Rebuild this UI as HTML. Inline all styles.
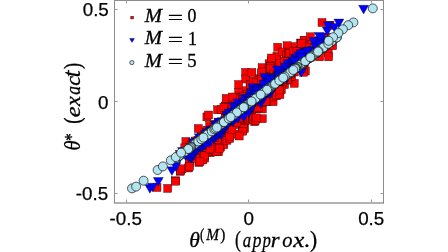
<!DOCTYPE html>
<html><head><meta charset="utf-8"><title>plot</title>
<style>
html,body{margin:0;padding:0;background:#fff;width:448px;height:252px;overflow:hidden}
svg{display:block}
.tk{font-family:"Liberation Sans",Arial,sans-serif;font-size:18.8px;fill:#000;stroke:#000;stroke-width:0.25px}
.lb{font-family:"Liberation Serif","Times New Roman",serif;fill:#000;stroke:#000;stroke-width:0.3px}
.lg{font-family:"Liberation Serif","Times New Roman",serif;fill:#000;stroke:#000;stroke-width:0.3px}
</style></head><body>
<svg width="448" height="252" viewBox="0 0 448 252">
<rect width="448" height="252" fill="#fff"/>
<defs><clipPath id="c"><rect x="114" y="0" width="270" height="203"/></clipPath></defs>
<g clip-path="url(#c)">
<g fill="#f00" stroke="#000" stroke-width="0.35"><rect x="218.5" y="125.7" width="8" height="8"/><rect x="235.6" y="107.6" width="8" height="8"/><rect x="225.6" y="128.2" width="8" height="8"/><rect x="245.3" y="101.9" width="8" height="8"/><rect x="203.3" y="135.1" width="8" height="8"/><rect x="249.5" y="91.8" width="8" height="8"/><rect x="246" y="83.3" width="8" height="8"/><rect x="221.1" y="102.8" width="8" height="8"/><rect x="280.6" y="75.8" width="8" height="8"/><rect x="235.9" y="97.5" width="8" height="8"/><rect x="300.7" y="36.5" width="8" height="8"/><rect x="241.7" y="116.4" width="8" height="8"/><rect x="300.2" y="57.4" width="8" height="8"/><rect x="277.2" y="77.1" width="8" height="8"/><rect x="277.7" y="60.7" width="8" height="8"/><rect x="220.4" y="105" width="8" height="8"/><rect x="270" y="66.2" width="8" height="8"/><rect x="269.4" y="68.7" width="8" height="8"/><rect x="200.6" y="143.4" width="8" height="8"/><rect x="266.2" y="67.7" width="8" height="8"/><rect x="194.9" y="158.5" width="8" height="8"/><rect x="296.5" y="39" width="8" height="8"/><rect x="271" y="78.1" width="8" height="8"/><rect x="280.7" y="64.5" width="8" height="8"/><rect x="226.7" y="118.4" width="8" height="8"/><rect x="266.6" y="84.4" width="8" height="8"/><rect x="246.3" y="104.2" width="8" height="8"/><rect x="300.2" y="62.5" width="8" height="8"/><rect x="306.3" y="53.3" width="8" height="8"/><rect x="239" y="86.7" width="8" height="8"/><rect x="217" y="136.7" width="8" height="8"/><rect x="256.1" y="75.9" width="8" height="8"/><rect x="230.3" y="97.9" width="8" height="8"/><rect x="264.8" y="85.7" width="8" height="8"/><rect x="263.3" y="73" width="8" height="8"/><rect x="276.6" y="63.9" width="8" height="8"/><rect x="236.2" y="118.5" width="8" height="8"/><rect x="190.1" y="148" width="8" height="8"/><rect x="261.9" y="72.5" width="8" height="8"/><rect x="197" y="151.4" width="8" height="8"/><rect x="272.9" y="83" width="8" height="8"/><rect x="239.2" y="109.7" width="8" height="8"/><rect x="197.4" y="131" width="8" height="8"/><rect x="287" y="50.4" width="8" height="8"/><rect x="223.7" y="118.5" width="8" height="8"/><rect x="312.4" y="51.5" width="8" height="8"/><rect x="281.5" y="71.2" width="8" height="8"/><rect x="263.5" y="88.4" width="8" height="8"/><rect x="241.9" y="114" width="8" height="8"/><rect x="286.6" y="54.3" width="8" height="8"/><rect x="239.9" y="108.4" width="8" height="8"/><rect x="262.4" y="85.8" width="8" height="8"/><rect x="207.7" y="126.4" width="8" height="8"/><rect x="205.2" y="139.2" width="8" height="8"/><rect x="259.5" y="89.4" width="8" height="8"/><rect x="231.2" y="100.7" width="8" height="8"/><rect x="260.9" y="90.5" width="8" height="8"/><rect x="286.9" y="64.6" width="8" height="8"/><rect x="245.6" y="108.3" width="8" height="8"/><rect x="249.4" y="85.8" width="8" height="8"/><rect x="232.4" y="112.2" width="8" height="8"/><rect x="221.2" y="102" width="8" height="8"/><rect x="216.6" y="143.1" width="8" height="8"/><rect x="242.7" y="108.8" width="8" height="8"/><rect x="206.5" y="148.7" width="8" height="8"/><rect x="185.1" y="162" width="8" height="8"/><rect x="273.1" y="62.6" width="8" height="8"/><rect x="227.1" y="118.9" width="8" height="8"/><rect x="266.8" y="90.8" width="8" height="8"/><rect x="229.9" y="112.9" width="8" height="8"/><rect x="262" y="85.2" width="8" height="8"/><rect x="290.3" y="79.4" width="8" height="8"/><rect x="289.3" y="54.3" width="8" height="8"/><rect x="235" y="107.2" width="8" height="8"/><rect x="283.2" y="50.5" width="8" height="8"/><rect x="243.9" y="92.3" width="8" height="8"/><rect x="284.9" y="73.8" width="8" height="8"/><rect x="212.3" y="130.5" width="8" height="8"/><rect x="211.1" y="120.5" width="8" height="8"/><rect x="207.4" y="127.1" width="8" height="8"/><rect x="300.1" y="36.4" width="8" height="8"/><rect x="275.1" y="68.6" width="8" height="8"/><rect x="204.1" y="147.9" width="8" height="8"/><rect x="246.9" y="104.1" width="8" height="8"/><rect x="247.2" y="88.2" width="8" height="8"/><rect x="250.9" y="99.3" width="8" height="8"/><rect x="249.1" y="88.9" width="8" height="8"/><rect x="263.7" y="83.1" width="8" height="8"/><rect x="287.7" y="61.4" width="8" height="8"/><rect x="246.1" y="103.2" width="8" height="8"/><rect x="193.7" y="146.6" width="8" height="8"/><rect x="290.4" y="51.7" width="8" height="8"/><rect x="275.2" y="73.3" width="8" height="8"/><rect x="176.2" y="167.4" width="8" height="8"/><rect x="208.2" y="122.3" width="8" height="8"/><rect x="283.2" y="62.2" width="8" height="8"/><rect x="287.2" y="61.7" width="8" height="8"/><rect x="264.5" y="97" width="8" height="8"/><rect x="294.9" y="59.4" width="8" height="8"/><rect x="267.5" y="61.2" width="8" height="8"/><rect x="273" y="70" width="8" height="8"/><rect x="293.3" y="48.7" width="8" height="8"/><rect x="171.4" y="176.7" width="8" height="8"/><rect x="231.5" y="113.2" width="8" height="8"/><rect x="264" y="71.8" width="8" height="8"/><rect x="259.3" y="81.5" width="8" height="8"/><rect x="176.8" y="166.5" width="8" height="8"/><rect x="300.5" y="47.5" width="8" height="8"/><rect x="199.4" y="152.2" width="8" height="8"/><rect x="280.6" y="80.6" width="8" height="8"/><rect x="283.1" y="63.2" width="8" height="8"/><rect x="214.2" y="118.4" width="8" height="8"/><rect x="215.5" y="124.8" width="8" height="8"/><rect x="258.1" y="63.6" width="8" height="8"/><rect x="261.6" y="89.4" width="8" height="8"/><rect x="252.8" y="84.6" width="8" height="8"/><rect x="197.5" y="128" width="8" height="8"/><rect x="245.5" y="99.6" width="8" height="8"/><rect x="264.6" y="67.3" width="8" height="8"/><rect x="293.4" y="49.4" width="8" height="8"/><rect x="287" y="61" width="8" height="8"/><rect x="178" y="164.8" width="8" height="8"/><rect x="163.7" y="184.4" width="8" height="8"/><rect x="213.8" y="140.4" width="8" height="8"/><rect x="221.4" y="107.4" width="8" height="8"/><rect x="241.6" y="68.4" width="8" height="8"/><rect x="243.4" y="108.1" width="8" height="8"/><rect x="243.5" y="97.2" width="8" height="8"/><rect x="260.6" y="74.4" width="8" height="8"/><rect x="290.3" y="44.4" width="8" height="8"/><rect x="251" y="96.3" width="8" height="8"/><rect x="279.1" y="61.1" width="8" height="8"/><rect x="253.3" y="86.3" width="8" height="8"/><rect x="289.4" y="47" width="8" height="8"/><rect x="256.2" y="88.7" width="8" height="8"/><rect x="263.4" y="79.8" width="8" height="8"/><rect x="244.5" y="96.1" width="8" height="8"/><rect x="254.3" y="78.7" width="8" height="8"/><rect x="212.3" y="125.9" width="8" height="8"/><rect x="279.2" y="68" width="8" height="8"/><rect x="245.8" y="110.1" width="8" height="8"/><rect x="234.9" y="107.6" width="8" height="8"/><rect x="282" y="75.4" width="8" height="8"/><rect x="229.2" y="113.7" width="8" height="8"/><rect x="289.9" y="42.6" width="8" height="8"/><rect x="213.9" y="136.4" width="8" height="8"/><rect x="282.4" y="51.2" width="8" height="8"/><rect x="275.6" y="71.5" width="8" height="8"/><rect x="224.3" y="130.4" width="8" height="8"/><rect x="297.2" y="43.3" width="8" height="8"/><rect x="274.4" y="67.7" width="8" height="8"/><rect x="250.7" y="117.7" width="8" height="8"/><rect x="268.8" y="76.5" width="8" height="8"/><rect x="274.4" y="71.2" width="8" height="8"/><rect x="278.6" y="72.3" width="8" height="8"/><rect x="273.1" y="69" width="8" height="8"/><rect x="246.7" y="94.8" width="8" height="8"/><rect x="290.7" y="56.6" width="8" height="8"/><rect x="214.9" y="136.3" width="8" height="8"/><rect x="181.9" y="137.5" width="8" height="8"/><rect x="318.7" y="39.6" width="8" height="8"/><rect x="236.9" y="94.5" width="8" height="8"/><rect x="273.9" y="58.3" width="8" height="8"/><rect x="266.3" y="81.9" width="8" height="8"/><rect x="234.6" y="88.6" width="8" height="8"/><rect x="294.5" y="49.3" width="8" height="8"/><rect x="255.4" y="74.7" width="8" height="8"/><rect x="258.4" y="86.4" width="8" height="8"/><rect x="223.5" y="107.6" width="8" height="8"/><rect x="204.8" y="131.7" width="8" height="8"/><rect x="232.7" y="94.2" width="8" height="8"/><rect x="243.2" y="90.8" width="8" height="8"/><rect x="200" y="148.5" width="8" height="8"/><rect x="229.8" y="114.4" width="8" height="8"/><rect x="299.3" y="66.3" width="8" height="8"/><rect x="243.1" y="102.6" width="8" height="8"/><rect x="214.8" y="138.7" width="8" height="8"/><rect x="274.3" y="68.3" width="8" height="8"/><rect x="270.1" y="66.2" width="8" height="8"/><rect x="248.5" y="91.1" width="8" height="8"/><rect x="258.4" y="104.9" width="8" height="8"/><rect x="287.6" y="72.3" width="8" height="8"/><rect x="275.7" y="67.7" width="8" height="8"/><rect x="240.1" y="105.8" width="8" height="8"/><rect x="258" y="83.7" width="8" height="8"/><rect x="244" y="101" width="8" height="8"/><rect x="220.5" y="127.5" width="8" height="8"/><rect x="220.8" y="122.5" width="8" height="8"/><rect x="224" y="117.6" width="8" height="8"/><rect x="269.2" y="65.9" width="8" height="8"/><rect x="224.7" y="109.4" width="8" height="8"/><rect x="264.7" y="82.2" width="8" height="8"/><rect x="212.2" y="139.5" width="8" height="8"/><rect x="271" y="81.2" width="8" height="8"/><rect x="234.3" y="109" width="8" height="8"/><rect x="277.8" y="57.1" width="8" height="8"/><rect x="228.4" y="97.5" width="8" height="8"/><rect x="300.6" y="49.3" width="8" height="8"/><rect x="287.1" y="62.4" width="8" height="8"/><rect x="224.2" y="102.9" width="8" height="8"/><rect x="261.6" y="89.2" width="8" height="8"/><rect x="311.9" y="37.9" width="8" height="8"/><rect x="283.8" y="76.1" width="8" height="8"/><rect x="210.3" y="121.4" width="8" height="8"/><rect x="258.1" y="71.7" width="8" height="8"/><rect x="266.7" y="84" width="8" height="8"/><rect x="265.1" y="59.8" width="8" height="8"/><rect x="288.8" y="47.4" width="8" height="8"/><rect x="203.8" y="128.6" width="8" height="8"/><rect x="221.7" y="110.8" width="8" height="8"/><rect x="180.8" y="143.9" width="8" height="8"/><rect x="253.1" y="87.1" width="8" height="8"/><rect x="314" y="39.8" width="8" height="8"/><rect x="276.3" y="71.2" width="8" height="8"/><rect x="298.8" y="49.3" width="8" height="8"/><rect x="243.5" y="95.2" width="8" height="8"/><rect x="258.5" y="98.7" width="8" height="8"/><rect x="248.4" y="99.4" width="8" height="8"/><rect x="209.7" y="145.4" width="8" height="8"/><rect x="257.6" y="69.6" width="8" height="8"/><rect x="203.3" y="144.6" width="8" height="8"/><rect x="221.7" y="109.4" width="8" height="8"/><rect x="237.2" y="109.3" width="8" height="8"/><rect x="292.2" y="53.3" width="8" height="8"/><rect x="203" y="129.2" width="8" height="8"/><rect x="256.8" y="87.6" width="8" height="8"/><rect x="319.5" y="36.3" width="8" height="8"/><rect x="296.5" y="52.3" width="8" height="8"/><rect x="253.8" y="94.8" width="8" height="8"/><rect x="282.1" y="52.7" width="8" height="8"/><rect x="265.9" y="70.3" width="8" height="8"/><rect x="254.6" y="77" width="8" height="8"/><rect x="198.2" y="147.7" width="8" height="8"/><rect x="295.9" y="59.7" width="8" height="8"/><rect x="241.6" y="75" width="8" height="8"/><rect x="202.9" y="126.2" width="8" height="8"/><rect x="252.3" y="94.7" width="8" height="8"/><rect x="214.5" y="129.3" width="8" height="8"/><rect x="200.1" y="132.4" width="8" height="8"/><rect x="271.5" y="76.1" width="8" height="8"/><rect x="218.7" y="122.4" width="8" height="8"/><rect x="267.2" y="56.8" width="8" height="8"/><rect x="231.9" y="93.1" width="8" height="8"/><rect x="254.4" y="84.9" width="8" height="8"/><rect x="206" y="128.6" width="8" height="8"/><rect x="238" y="122.5" width="8" height="8"/><rect x="234.9" y="108.4" width="8" height="8"/><rect x="223.4" y="109" width="8" height="8"/><rect x="214.6" y="147.8" width="8" height="8"/><rect x="217" y="121.5" width="8" height="8"/><rect x="219.8" y="140.8" width="8" height="8"/><rect x="198.9" y="135.4" width="8" height="8"/><rect x="292.1" y="59.3" width="8" height="8"/><rect x="216.7" y="131.7" width="8" height="8"/><rect x="278.8" y="79.2" width="8" height="8"/><rect x="254.4" y="93.6" width="8" height="8"/><rect x="227.3" y="111.7" width="8" height="8"/><rect x="227.8" y="121.1" width="8" height="8"/><rect x="279.4" y="64.7" width="8" height="8"/><rect x="200.7" y="154.1" width="8" height="8"/><rect x="301.7" y="41.6" width="8" height="8"/><rect x="275.7" y="87.4" width="8" height="8"/><rect x="230.9" y="111.2" width="8" height="8"/><rect x="271.8" y="75.8" width="8" height="8"/><rect x="283.1" y="41.7" width="8" height="8"/><rect x="242" y="94" width="8" height="8"/><rect x="296.8" y="48.3" width="8" height="8"/><rect x="202.9" y="112.9" width="8" height="8"/><rect x="257" y="86.2" width="8" height="8"/><rect x="287.5" y="57.8" width="8" height="8"/><rect x="218.3" y="135.1" width="8" height="8"/><rect x="185.4" y="158.6" width="8" height="8"/><rect x="272.9" y="52.3" width="8" height="8"/><rect x="249.2" y="88.2" width="8" height="8"/><rect x="267.6" y="67.2" width="8" height="8"/><rect x="272.8" y="81.5" width="8" height="8"/><rect x="240.6" y="124.5" width="8" height="8"/><rect x="267" y="73.3" width="8" height="8"/><rect x="286.8" y="69.9" width="8" height="8"/><rect x="211.6" y="125.4" width="8" height="8"/><rect x="247.6" y="107.2" width="8" height="8"/><rect x="258.4" y="114.7" width="8" height="8"/><rect x="282.4" y="68.9" width="8" height="8"/><rect x="273.7" y="43.3" width="8" height="8"/><rect x="193.1" y="147.7" width="8" height="8"/><rect x="286" y="65.5" width="8" height="8"/><rect x="204.6" y="111" width="8" height="8"/><rect x="273.4" y="90.4" width="8" height="8"/><rect x="226.6" y="125.7" width="8" height="8"/><rect x="232" y="105.7" width="8" height="8"/><rect x="269.4" y="89.4" width="8" height="8"/><rect x="275.9" y="59.6" width="8" height="8"/><rect x="253.5" y="87.1" width="8" height="8"/><rect x="260.9" y="83.5" width="8" height="8"/><rect x="252.7" y="90.1" width="8" height="8"/><rect x="295.1" y="56.9" width="8" height="8"/><rect x="198.8" y="156" width="8" height="8"/><rect x="222.1" y="132.4" width="8" height="8"/><rect x="244.8" y="97.5" width="8" height="8"/><rect x="325.3" y="33.3" width="8" height="8"/><rect x="315.6" y="52.8" width="8" height="8"/><rect x="198.9" y="138.5" width="8" height="8"/><rect x="191.2" y="137" width="8" height="8"/><rect x="188.9" y="153.9" width="8" height="8"/><rect x="245.2" y="115.9" width="8" height="8"/><rect x="307.9" y="37.4" width="8" height="8"/><rect x="267.1" y="86.8" width="8" height="8"/><rect x="221.3" y="118" width="8" height="8"/><rect x="264.2" y="76.4" width="8" height="8"/><rect x="190.9" y="153.1" width="8" height="8"/><rect x="284.5" y="61" width="8" height="8"/><rect x="240.2" y="99.2" width="8" height="8"/><rect x="258.7" y="84.6" width="8" height="8"/><rect x="218.4" y="132.7" width="8" height="8"/><rect x="250.6" y="104.9" width="8" height="8"/><rect x="278.7" y="48" width="8" height="8"/><rect x="290.4" y="68" width="8" height="8"/><rect x="254.4" y="89.8" width="8" height="8"/><rect x="273.9" y="76.1" width="8" height="8"/><rect x="251.1" y="101.2" width="8" height="8"/><rect x="226.9" y="105.3" width="8" height="8"/><rect x="187" y="141.5" width="8" height="8"/><rect x="266.9" y="92.6" width="8" height="8"/><rect x="238.8" y="118.3" width="8" height="8"/><rect x="300.3" y="44.5" width="8" height="8"/><rect x="195.4" y="153.3" width="8" height="8"/><rect x="256.9" y="76.8" width="8" height="8"/><rect x="239" y="125.6" width="8" height="8"/><rect x="266.8" y="62.8" width="8" height="8"/><rect x="184.5" y="164" width="8" height="8"/><rect x="269.1" y="97.7" width="8" height="8"/><rect x="248.1" y="98" width="8" height="8"/><rect x="233.8" y="93.9" width="8" height="8"/><rect x="268" y="93" width="8" height="8"/><rect x="232.6" y="120.5" width="8" height="8"/><rect x="203" y="134.4" width="8" height="8"/><rect x="201.1" y="146.8" width="8" height="8"/><rect x="249.2" y="114.1" width="8" height="8"/><rect x="233.2" y="130.3" width="8" height="8"/><rect x="236.4" y="103.9" width="8" height="8"/><rect x="291.5" y="63.1" width="8" height="8"/><rect x="282.3" y="51.2" width="8" height="8"/><rect x="280.8" y="57.1" width="8" height="8"/><rect x="258.6" y="68.4" width="8" height="8"/><rect x="248.8" y="97.8" width="8" height="8"/><rect x="273.8" y="83.6" width="8" height="8"/><rect x="239.4" y="97.5" width="8" height="8"/><rect x="251.8" y="96.5" width="8" height="8"/><rect x="191.9" y="154.2" width="8" height="8"/><rect x="227.6" y="102.5" width="8" height="8"/><rect x="230.4" y="111.6" width="8" height="8"/><rect x="253.7" y="104.7" width="8" height="8"/><rect x="228.1" y="114.4" width="8" height="8"/><rect x="264.3" y="84" width="8" height="8"/><rect x="224.2" y="128.3" width="8" height="8"/><rect x="267.5" y="54" width="8" height="8"/><rect x="253" y="82.6" width="8" height="8"/><rect x="270.1" y="85.6" width="8" height="8"/><rect x="239.4" y="119.6" width="8" height="8"/><rect x="306.4" y="32.8" width="8" height="8"/><rect x="295.9" y="64" width="8" height="8"/><rect x="240.3" y="116.7" width="8" height="8"/><rect x="241.7" y="96.3" width="8" height="8"/><rect x="228.1" y="109.2" width="8" height="8"/><rect x="234.6" y="80.5" width="8" height="8"/><rect x="225.7" y="109.5" width="8" height="8"/><rect x="237.8" y="95.7" width="8" height="8"/><rect x="234.6" y="100.1" width="8" height="8"/><rect x="276.1" y="77.3" width="8" height="8"/><rect x="324.2" y="48.9" width="8" height="8"/><rect x="223" y="136.3" width="8" height="8"/><rect x="251.7" y="84.8" width="8" height="8"/><rect x="319.2" y="33.5" width="8" height="8"/><rect x="171.7" y="177.2" width="8" height="8"/><rect x="266.6" y="64.1" width="8" height="8"/><rect x="204.9" y="136.1" width="8" height="8"/><rect x="324.6" y="52.8" width="8" height="8"/><rect x="301.4" y="67" width="8" height="8"/><rect x="204.3" y="129.5" width="8" height="8"/><rect x="205.6" y="121.4" width="8" height="8"/><rect x="239.4" y="104.1" width="8" height="8"/><rect x="214.4" y="130.5" width="8" height="8"/><rect x="242.2" y="96.3" width="8" height="8"/><rect x="226.6" y="111.3" width="8" height="8"/><rect x="211.3" y="147" width="8" height="8"/><rect x="239.9" y="92.8" width="8" height="8"/><rect x="283.2" y="75.2" width="8" height="8"/><rect x="296.5" y="46.1" width="8" height="8"/><rect x="194.8" y="143.6" width="8" height="8"/><rect x="251.3" y="116.5" width="8" height="8"/><rect x="239.6" y="105.9" width="8" height="8"/><rect x="238.8" y="127.2" width="8" height="8"/><rect x="228.9" y="101.6" width="8" height="8"/><rect x="237.3" y="108.1" width="8" height="8"/><rect x="209.3" y="140.3" width="8" height="8"/><rect x="240.4" y="115.7" width="8" height="8"/><rect x="240.3" y="113.7" width="8" height="8"/><rect x="253.8" y="90.9" width="8" height="8"/><rect x="226.5" y="109.6" width="8" height="8"/><rect x="175.6" y="150.4" width="8" height="8"/><rect x="261.6" y="81.3" width="8" height="8"/><rect x="267.4" y="89.9" width="8" height="8"/><rect x="262.1" y="97.5" width="8" height="8"/><rect x="222.2" y="94.4" width="8" height="8"/><rect x="194.1" y="142.6" width="8" height="8"/><rect x="269.7" y="70" width="8" height="8"/><rect x="326" y="21.2" width="8" height="8"/><rect x="256.5" y="76" width="8" height="8"/><rect x="302.4" y="43.5" width="8" height="8"/><rect x="207.2" y="137.4" width="8" height="8"/><rect x="187.9" y="151.6" width="8" height="8"/><rect x="221.6" y="121.6" width="8" height="8"/><rect x="246.4" y="80.2" width="8" height="8"/><rect x="284.8" y="49" width="8" height="8"/><rect x="257.6" y="76.3" width="8" height="8"/><rect x="328.7" y="41.7" width="8" height="8"/><rect x="225.7" y="127.3" width="8" height="8"/><rect x="249.5" y="76.9" width="8" height="8"/><rect x="247.9" y="92.6" width="8" height="8"/><rect x="286.7" y="64.7" width="8" height="8"/><rect x="267.9" y="74.7" width="8" height="8"/><rect x="275.4" y="76.1" width="8" height="8"/><rect x="297.6" y="39.8" width="8" height="8"/><rect x="236.9" y="110.7" width="8" height="8"/><rect x="318" y="18.5" width="8" height="8"/><rect x="263.8" y="88.3" width="8" height="8"/><rect x="252.3" y="113.9" width="8" height="8"/><rect x="235.2" y="115.6" width="8" height="8"/><rect x="254.1" y="103.4" width="8" height="8"/><rect x="269.9" y="73.4" width="8" height="8"/><rect x="237.1" y="106.9" width="8" height="8"/><rect x="225.7" y="134.5" width="8" height="8"/><rect x="250.6" y="98" width="8" height="8"/><rect x="262.7" y="94.5" width="8" height="8"/><rect x="282.4" y="68.2" width="8" height="8"/><rect x="272.7" y="91.8" width="8" height="8"/><rect x="299.6" y="68.3" width="8" height="8"/><rect x="285.7" y="49.6" width="8" height="8"/><rect x="297.9" y="64.7" width="8" height="8"/><rect x="240.7" y="106.8" width="8" height="8"/><rect x="300.5" y="48.4" width="8" height="8"/><rect x="242.4" y="99.1" width="8" height="8"/><rect x="274.7" y="75.9" width="8" height="8"/><rect x="252.8" y="78.9" width="8" height="8"/><rect x="257.9" y="68" width="8" height="8"/><rect x="289.4" y="47.1" width="8" height="8"/><rect x="216" y="119.8" width="8" height="8"/><rect x="225.6" y="132.7" width="8" height="8"/><rect x="242.1" y="103.9" width="8" height="8"/><rect x="228" y="125.4" width="8" height="8"/><rect x="232.8" y="118.4" width="8" height="8"/><rect x="248.9" y="97.7" width="8" height="8"/><rect x="219.4" y="118.1" width="8" height="8"/><rect x="230.4" y="94.4" width="8" height="8"/><rect x="247.9" y="68.4" width="8" height="8"/><rect x="213.3" y="135.2" width="8" height="8"/><rect x="269.4" y="75.4" width="8" height="8"/><rect x="294.3" y="53.3" width="8" height="8"/><rect x="212.1" y="147.5" width="8" height="8"/><rect x="254.9" y="86.3" width="8" height="8"/><rect x="264.3" y="77" width="8" height="8"/><rect x="213.5" y="105.8" width="8" height="8"/><rect x="261.1" y="87.7" width="8" height="8"/><rect x="201.2" y="143" width="8" height="8"/><rect x="232.5" y="103" width="8" height="8"/><rect x="270.4" y="76.9" width="8" height="8"/><rect x="257.2" y="75.4" width="8" height="8"/><rect x="229.3" y="108.4" width="8" height="8"/><rect x="277.4" y="85.8" width="8" height="8"/><rect x="278.7" y="72.5" width="8" height="8"/><rect x="238.4" y="114.6" width="8" height="8"/><rect x="285.2" y="66" width="8" height="8"/><rect x="236.9" y="113.1" width="8" height="8"/><rect x="265.5" y="79.7" width="8" height="8"/><rect x="275.9" y="90.6" width="8" height="8"/><rect x="200.3" y="143.7" width="8" height="8"/><rect x="200.7" y="151.9" width="8" height="8"/><rect x="235.2" y="132" width="8" height="8"/><rect x="264.5" y="76.6" width="8" height="8"/><rect x="228.4" y="93" width="8" height="8"/><rect x="292.9" y="47.6" width="8" height="8"/><rect x="194.3" y="124.5" width="8" height="8"/><rect x="217.1" y="105.7" width="8" height="8"/><rect x="219.9" y="103.3" width="8" height="8"/><rect x="195.9" y="157.6" width="8" height="8"/><rect x="261.3" y="97.4" width="8" height="8"/><rect x="153" y="183.5" width="8" height="8"/><rect x="215.4" y="144.6" width="8" height="8"/><rect x="275.2" y="86" width="8" height="8"/><rect x="265.2" y="73.7" width="8" height="8"/><rect x="185.2" y="162.4" width="8" height="8"/><rect x="210.3" y="133.6" width="8" height="8"/><rect x="206" y="145" width="8" height="8"/><rect x="210.1" y="123.5" width="8" height="8"/></g>
<g fill="#00f" stroke="#000" stroke-width="0.35"><path d="M208.9 125.9h10l-5 8.6z"/><path d="M230.7 107.8h10l-5 8.6z"/><path d="M242.3 102.1h10l-5 8.6z"/><path d="M208.9 135.2h10l-5 8.6z"/><path d="M259.3 91.9h10l-5 8.6z"/><path d="M262.5 83.4h10l-5 8.6z"/><path d="M243.1 102.9h10l-5 8.6z"/><path d="M267.9 76h10l-5 8.6z"/><path d="M247 97.6h10l-5 8.6z"/><path d="M315.1 36.6h10l-5 8.6z"/><path d="M226.9 116.5h10l-5 8.6z"/><path d="M263.9 77.2h10l-5 8.6z"/><path d="M285.3 60.8h10l-5 8.6z"/><path d="M280.2 68.9h10l-5 8.6z"/><path d="M195.1 143.5h10l-5 8.6z"/><path d="M274.5 67.8h10l-5 8.6z"/><path d="M266.2 78.2h10l-5 8.6z"/><path d="M286 64.7h10l-5 8.6z"/><path d="M222.1 118.6h10l-5 8.6z"/><path d="M257 84.5h10l-5 8.6z"/><path d="M237.7 104.4h10l-5 8.6z"/><path d="M286.6 62.6h10l-5 8.6z"/><path d="M306 53.4h10l-5 8.6z"/><path d="M261 86.8h10l-5 8.6z"/><path d="M193.6 136.8h10l-5 8.6z"/><path d="M260.7 76h10l-5 8.6z"/><path d="M245 98h10l-5 8.6z"/><path d="M265.2 85.8h10l-5 8.6z"/><path d="M275.9 73.1h10l-5 8.6z"/><path d="M290.4 64h10l-5 8.6z"/><path d="M218.5 118.7h10l-5 8.6z"/><path d="M180.5 148.1h10l-5 8.6z"/><path d="M279.3 72.6h10l-5 8.6z"/><path d="M183.7 151.6h10l-5 8.6z"/><path d="M266.1 83.1h10l-5 8.6z"/><path d="M224.3 109.8h10l-5 8.6z"/><path d="M207.5 131.1h10l-5 8.6z"/><path d="M299.7 50.5h10l-5 8.6z"/><path d="M224.9 118.6h10l-5 8.6z"/><path d="M298.5 51.6h10l-5 8.6z"/><path d="M274.2 71.4h10l-5 8.6z"/><path d="M253.3 88.5h10l-5 8.6z"/><path d="M232.2 114.2h10l-5 8.6z"/><path d="M298.1 54.4h10l-5 8.6z"/><path d="M228.8 108.5h10l-5 8.6z"/><path d="M254.3 85.9h10l-5 8.6z"/><path d="M206.8 126.5h10l-5 8.6z"/><path d="M204.4 139.3h10l-5 8.6z"/><path d="M246 89.6h10l-5 8.6z"/><path d="M237.1 100.9h10l-5 8.6z"/><path d="M256.7 90.6h10l-5 8.6z"/><path d="M291.1 64.7h10l-5 8.6z"/><path d="M231.9 108.4h10l-5 8.6z"/><path d="M263.1 85.9h10l-5 8.6z"/><path d="M231.8 112.4h10l-5 8.6z"/><path d="M197.6 143.2h10l-5 8.6z"/><path d="M232.3 108.9h10l-5 8.6z"/><path d="M295.8 62.7h10l-5 8.6z"/><path d="M221.5 119.1h10l-5 8.6z"/><path d="M260.8 90.9h10l-5 8.6z"/><path d="M222.1 113h10l-5 8.6z"/><path d="M264.8 85.3h10l-5 8.6z"/><path d="M261.1 79.6h10l-5 8.6z"/><path d="M290.7 54.4h10l-5 8.6z"/><path d="M236.5 107.3h10l-5 8.6z"/><path d="M298.6 50.7h10l-5 8.6z"/><path d="M253.7 92.4h10l-5 8.6z"/><path d="M268.9 73.9h10l-5 8.6z"/><path d="M215.2 130.6h10l-5 8.6z"/><path d="M218.9 120.6h10l-5 8.6z"/><path d="M205.7 127.3h10l-5 8.6z"/><path d="M281.5 68.7h10l-5 8.6z"/><path d="M241.9 104.2h10l-5 8.6z"/><path d="M252.9 88.3h10l-5 8.6z"/><path d="M245.6 99.4h10l-5 8.6z"/><path d="M265.7 89.1h10l-5 8.6z"/><path d="M267.1 83.3h10l-5 8.6z"/><path d="M289.4 61.5h10l-5 8.6z"/><path d="M235.9 103.3h10l-5 8.6z"/><path d="M191.8 146.8h10l-5 8.6z"/><path d="M293.9 51.9h10l-5 8.6z"/><path d="M260 73.5h10l-5 8.6z"/><path d="M213.6 122.4h10l-5 8.6z"/><path d="M283.2 62.3h10l-5 8.6z"/><path d="M297.7 61.8h10l-5 8.6z"/><path d="M292.6 59.6h10l-5 8.6z"/><path d="M274.2 70.1h10l-5 8.6z"/><path d="M299.4 48.8h10l-5 8.6z"/><path d="M229.8 113.3h10l-5 8.6z"/><path d="M272.7 71.9h10l-5 8.6z"/><path d="M262 81.7h10l-5 8.6z"/><path d="M306.1 47.6h10l-5 8.6z"/><path d="M287.8 63.3h10l-5 8.6z"/><path d="M221.8 118.6h10l-5 8.6z"/><path d="M214.6 124.9h10l-5 8.6z"/><path d="M293.2 63.7h10l-5 8.6z"/><path d="M263.6 89.5h10l-5 8.6z"/><path d="M253.1 84.7h10l-5 8.6z"/><path d="M255.6 99.7h10l-5 8.6z"/><path d="M282.9 67.4h10l-5 8.6z"/><path d="M310.3 49.6h10l-5 8.6z"/><path d="M286.5 61.1h10l-5 8.6z"/><path d="M197.7 140.6h10l-5 8.6z"/><path d="M235 107.6h10l-5 8.6z"/><path d="M233.7 108.2h10l-5 8.6z"/><path d="M249.9 97.3h10l-5 8.6z"/><path d="M276.7 74.6h10l-5 8.6z"/><path d="M241.9 96.5h10l-5 8.6z"/><path d="M289.3 61.3h10l-5 8.6z"/><path d="M262.7 86.4h10l-5 8.6z"/><path d="M310.6 47.1h10l-5 8.6z"/><path d="M254.5 88.8h10l-5 8.6z"/><path d="M265.7 79.9h10l-5 8.6z"/><path d="M246.3 96.2h10l-5 8.6z"/><path d="M263 78.8h10l-5 8.6z"/><path d="M206.5 126h10l-5 8.6z"/><path d="M289.2 68.1h10l-5 8.6z"/><path d="M228.9 110.3h10l-5 8.6z"/><path d="M234.3 107.7h10l-5 8.6z"/><path d="M268.8 75.5h10l-5 8.6z"/><path d="M233.1 113.8h10l-5 8.6z"/><path d="M321.1 42.8h10l-5 8.6z"/><path d="M199.7 136.6h10l-5 8.6z"/><path d="M304.6 51.3h10l-5 8.6z"/><path d="M273.5 71.6h10l-5 8.6z"/><path d="M216.3 130.5h10l-5 8.6z"/><path d="M316.3 43.4h10l-5 8.6z"/><path d="M277.7 67.9h10l-5 8.6z"/><path d="M228.3 117.9h10l-5 8.6z"/><path d="M272.9 76.6h10l-5 8.6z"/><path d="M279.5 71.4h10l-5 8.6z"/><path d="M277.9 72.4h10l-5 8.6z"/><path d="M277 69.1h10l-5 8.6z"/><path d="M246.1 94.9h10l-5 8.6z"/><path d="M298.5 56.7h10l-5 8.6z"/><path d="M199.3 137.6h10l-5 8.6z"/><path d="M311.6 39.8h10l-5 8.6z"/><path d="M258.9 94.7h10l-5 8.6z"/><path d="M292.3 58.4h10l-5 8.6z"/><path d="M261.7 82h10l-5 8.6z"/><path d="M301 49.4h10l-5 8.6z"/><path d="M276.6 74.8h10l-5 8.6z"/><path d="M263.7 86.5h10l-5 8.6z"/><path d="M235 107.7h10l-5 8.6z"/><path d="M210.3 131.9h10l-5 8.6z"/><path d="M242 94.4h10l-5 8.6z"/><path d="M251.7 90.9h10l-5 8.6z"/><path d="M184.6 148.7h10l-5 8.6z"/><path d="M225.9 114.6h10l-5 8.6z"/><path d="M241.8 102.8h10l-5 8.6z"/><path d="M188.1 138.8h10l-5 8.6z"/><path d="M296.4 68.4h10l-5 8.6z"/><path d="M279.3 66.4h10l-5 8.6z"/><path d="M254.8 91.2h10l-5 8.6z"/><path d="M280.2 72.4h10l-5 8.6z"/><path d="M285.9 67.9h10l-5 8.6z"/><path d="M236.9 105.9h10l-5 8.6z"/><path d="M247.9 83.8h10l-5 8.6z"/><path d="M236 101.1h10l-5 8.6z"/><path d="M214.7 127.6h10l-5 8.6z"/><path d="M212.1 122.6h10l-5 8.6z"/><path d="M217.1 117.7h10l-5 8.6z"/><path d="M272.4 66h10l-5 8.6z"/><path d="M237.5 109.6h10l-5 8.6z"/><path d="M266.5 82.3h10l-5 8.6z"/><path d="M192.7 139.6h10l-5 8.6z"/><path d="M264.6 81.3h10l-5 8.6z"/><path d="M231.5 109.1h10l-5 8.6z"/><path d="M289.2 57.3h10l-5 8.6z"/><path d="M302.8 49.5h10l-5 8.6z"/><path d="M289.4 62.5h10l-5 8.6z"/><path d="M241.6 103h10l-5 8.6z"/><path d="M261.5 89.3h10l-5 8.6z"/><path d="M318.3 38h10l-5 8.6z"/><path d="M269.1 76.2h10l-5 8.6z"/><path d="M219.7 121.5h10l-5 8.6z"/><path d="M273.6 71.9h10l-5 8.6z"/><path d="M255.5 84.2h10l-5 8.6z"/><path d="M296.8 59.9h10l-5 8.6z"/><path d="M304.7 47.5h10l-5 8.6z"/><path d="M210 128.8h10l-5 8.6z"/><path d="M233.1 110.9h10l-5 8.6z"/><path d="M186.5 144h10l-5 8.6z"/><path d="M261 87.2h10l-5 8.6z"/><path d="M317.9 40h10l-5 8.6z"/><path d="M276.8 71.4h10l-5 8.6z"/><path d="M306 49.5h10l-5 8.6z"/><path d="M244.2 95.3h10l-5 8.6z"/><path d="M232.9 98.9h10l-5 8.6z"/><path d="M241.5 99.5h10l-5 8.6z"/><path d="M185.8 145.5h10l-5 8.6z"/><path d="M283.5 69.7h10l-5 8.6z"/><path d="M192.4 144.7h10l-5 8.6z"/><path d="M228.8 109.6h10l-5 8.6z"/><path d="M231.8 109.4h10l-5 8.6z"/><path d="M305.8 53.5h10l-5 8.6z"/><path d="M214.3 129.4h10l-5 8.6z"/><path d="M259 87.8h10l-5 8.6z"/><path d="M322.1 36.5h10l-5 8.6z"/><path d="M299.1 52.4h10l-5 8.6z"/><path d="M247.8 94.9h10l-5 8.6z"/><path d="M302.9 52.8h10l-5 8.6z"/><path d="M277.8 70.4h10l-5 8.6z"/><path d="M271.6 77.2h10l-5 8.6z"/><path d="M182.1 147.8h10l-5 8.6z"/><path d="M283.2 59.8h10l-5 8.6z"/><path d="M240.2 94.8h10l-5 8.6z"/><path d="M206.5 129.5h10l-5 8.6z"/><path d="M211.6 132.5h10l-5 8.6z"/><path d="M277.1 76.2h10l-5 8.6z"/><path d="M211.7 122.5h10l-5 8.6z"/><path d="M287.3 56.9h10l-5 8.6z"/><path d="M254.4 93.2h10l-5 8.6z"/><path d="M262.7 85.1h10l-5 8.6z"/><path d="M202.7 128.7h10l-5 8.6z"/><path d="M221.6 122.6h10l-5 8.6z"/><path d="M233.4 108.5h10l-5 8.6z"/><path d="M238.3 109.1h10l-5 8.6z"/><path d="M219.2 121.6h10l-5 8.6z"/><path d="M199.8 141h10l-5 8.6z"/><path d="M203.2 135.6h10l-5 8.6z"/><path d="M287.3 59.4h10l-5 8.6z"/><path d="M204.8 131.8h10l-5 8.6z"/><path d="M264.2 79.3h10l-5 8.6z"/><path d="M253.9 93.8h10l-5 8.6z"/><path d="M223.9 111.9h10l-5 8.6z"/><path d="M210.5 121.2h10l-5 8.6z"/><path d="M288.6 64.8h10l-5 8.6z"/><path d="M185.8 154.3h10l-5 8.6z"/><path d="M320.6 41.8h10l-5 8.6z"/><path d="M262.8 87.5h10l-5 8.6z"/><path d="M222 111.4h10l-5 8.6z"/><path d="M268.2 76h10l-5 8.6z"/><path d="M246.7 94.1h10l-5 8.6z"/><path d="M305.2 48.4h10l-5 8.6z"/><path d="M248.4 86.3h10l-5 8.6z"/><path d="M293.6 58h10l-5 8.6z"/><path d="M203.3 135.2h10l-5 8.6z"/><path d="M251.8 88.3h10l-5 8.6z"/><path d="M282.8 67.3h10l-5 8.6z"/><path d="M270.4 81.7h10l-5 8.6z"/><path d="M274.9 73.5h10l-5 8.6z"/><path d="M218.3 125.5h10l-5 8.6z"/><path d="M238.9 107.3h10l-5 8.6z"/><path d="M282.1 69h10l-5 8.6z"/><path d="M313.4 43.4h10l-5 8.6z"/><path d="M185.7 147.9h10l-5 8.6z"/><path d="M290.3 65.6h10l-5 8.6z"/><path d="M210.4 125.9h10l-5 8.6z"/><path d="M232.2 105.8h10l-5 8.6z"/><path d="M258.4 89.5h10l-5 8.6z"/><path d="M287.9 59.7h10l-5 8.6z"/><path d="M259.8 87.2h10l-5 8.6z"/><path d="M267.4 83.6h10l-5 8.6z"/><path d="M254.5 90.2h10l-5 8.6z"/><path d="M295.3 57h10l-5 8.6z"/><path d="M209.5 132.6h10l-5 8.6z"/><path d="M248.7 97.6h10l-5 8.6z"/><path d="M316.1 33.5h10l-5 8.6z"/><path d="M191.7 138.6h10l-5 8.6z"/><path d="M186.9 154.1h10l-5 8.6z"/><path d="M225.9 116h10l-5 8.6z"/><path d="M308.6 37.5h10l-5 8.6z"/><path d="M251.5 86.9h10l-5 8.6z"/><path d="M221.8 118.1h10l-5 8.6z"/><path d="M266.1 76.5h10l-5 8.6z"/><path d="M183.6 153.3h10l-5 8.6z"/><path d="M290.2 61.1h10l-5 8.6z"/><path d="M245.5 99.4h10l-5 8.6z"/><path d="M255.1 84.8h10l-5 8.6z"/><path d="M207.7 132.9h10l-5 8.6z"/><path d="M246.2 105h10l-5 8.6z"/><path d="M250.7 89.9h10l-5 8.6z"/><path d="M277.7 76.3h10l-5 8.6z"/><path d="M245.6 101.3h10l-5 8.6z"/><path d="M239.3 105.4h10l-5 8.6z"/><path d="M194.3 141.7h10l-5 8.6z"/><path d="M245.4 92.7h10l-5 8.6z"/><path d="M216.9 118.5h10l-5 8.6z"/><path d="M313.8 44.6h10l-5 8.6z"/><path d="M186 153.4h10l-5 8.6z"/><path d="M276.4 77h10l-5 8.6z"/><path d="M292.3 62.9h10l-5 8.6z"/><path d="M248.9 98.1h10l-5 8.6z"/><path d="M247.3 94.1h10l-5 8.6z"/><path d="M212.8 120.7h10l-5 8.6z"/><path d="M203.8 134.5h10l-5 8.6z"/><path d="M191.1 146.9h10l-5 8.6z"/><path d="M226.5 114.2h10l-5 8.6z"/><path d="M200.1 130.4h10l-5 8.6z"/><path d="M235.2 104.1h10l-5 8.6z"/><path d="M280.1 63.2h10l-5 8.6z"/><path d="M302.5 51.3h10l-5 8.6z"/><path d="M289.5 57.2h10l-5 8.6z"/><path d="M243.9 98h10l-5 8.6z"/><path d="M263.7 83.7h10l-5 8.6z"/><path d="M245.7 97.7h10l-5 8.6z"/><path d="M253 96.7h10l-5 8.6z"/><path d="M174.7 154.4h10l-5 8.6z"/><path d="M228.7 102.7h10l-5 8.6z"/><path d="M233.6 111.7h10l-5 8.6z"/><path d="M243.7 104.8h10l-5 8.6z"/><path d="M232.7 114.6h10l-5 8.6z"/><path d="M263.1 84.1h10l-5 8.6z"/><path d="M212.5 128.4h10l-5 8.6z"/><path d="M263.9 82.8h10l-5 8.6z"/><path d="M253.4 85.7h10l-5 8.6z"/><path d="M217 119.8h10l-5 8.6z"/><path d="M288.6 64.1h10l-5 8.6z"/><path d="M220.3 116.8h10l-5 8.6z"/><path d="M255.9 96.4h10l-5 8.6z"/><path d="M224.2 109.3h10l-5 8.6z"/><path d="M229.2 109.7h10l-5 8.6z"/><path d="M252.7 95.9h10l-5 8.6z"/><path d="M239.1 100.3h10l-5 8.6z"/><path d="M264.3 77.5h10l-5 8.6z"/><path d="M194 136.5h10l-5 8.6z"/><path d="M257.2 84.9h10l-5 8.6z"/><path d="M331 33.6h10l-5 8.6z"/><path d="M288.1 64.2h10l-5 8.6z"/><path d="M203.5 136.2h10l-5 8.6z"/><path d="M205.9 129.6h10l-5 8.6z"/><path d="M221.9 121.5h10l-5 8.6z"/><path d="M238.1 104.2h10l-5 8.6z"/><path d="M202.9 130.6h10l-5 8.6z"/><path d="M244.3 96.5h10l-5 8.6z"/><path d="M230.3 111.4h10l-5 8.6z"/><path d="M256.6 93h10l-5 8.6z"/><path d="M307.8 46.3h10l-5 8.6z"/><path d="M194.8 143.7h10l-5 8.6z"/><path d="M245.4 106h10l-5 8.6z"/><path d="M236.6 101.7h10l-5 8.6z"/><path d="M227 108.2h10l-5 8.6z"/><path d="M200.9 140.4h10l-5 8.6z"/><path d="M226.4 115.9h10l-5 8.6z"/><path d="M226.1 113.9h10l-5 8.6z"/><path d="M254.5 91.1h10l-5 8.6z"/><path d="M229.7 109.7h10l-5 8.6z"/><path d="M187.1 150.5h10l-5 8.6z"/><path d="M263.4 81.4h10l-5 8.6z"/><path d="M258.4 90h10l-5 8.6z"/><path d="M239.4 97.6h10l-5 8.6z"/><path d="M245 94.5h10l-5 8.6z"/><path d="M194 142.7h10l-5 8.6z"/><path d="M276.5 70.2h10l-5 8.6z"/><path d="M274.9 76.1h10l-5 8.6z"/><path d="M311.1 43.6h10l-5 8.6z"/><path d="M196.8 137.5h10l-5 8.6z"/><path d="M184.3 151.7h10l-5 8.6z"/><path d="M215 121.7h10l-5 8.6z"/><path d="M258.7 80.4h10l-5 8.6z"/><path d="M299 49.1h10l-5 8.6z"/><path d="M267.2 76.5h10l-5 8.6z"/><path d="M208.8 127.4h10l-5 8.6z"/><path d="M270.9 77h10l-5 8.6z"/><path d="M255.7 92.7h10l-5 8.6z"/><path d="M288.1 64.8h10l-5 8.6z"/><path d="M281.8 74.8h10l-5 8.6z"/><path d="M277.7 76.2h10l-5 8.6z"/><path d="M315 39.9h10l-5 8.6z"/><path d="M238.1 110.9h10l-5 8.6z"/><path d="M262.3 88.4h10l-5 8.6z"/><path d="M224.2 114h10l-5 8.6z"/><path d="M226 115.8h10l-5 8.6z"/><path d="M243.8 103.5h10l-5 8.6z"/><path d="M275.9 73.5h10l-5 8.6z"/><path d="M239.4 107h10l-5 8.6z"/><path d="M204.7 134.7h10l-5 8.6z"/><path d="M248.1 98.1h10l-5 8.6z"/><path d="M247.3 94.6h10l-5 8.6z"/><path d="M282.9 68.3h10l-5 8.6z"/><path d="M250.4 92h10l-5 8.6z"/><path d="M284.3 68.4h10l-5 8.6z"/><path d="M295.7 49.7h10l-5 8.6z"/><path d="M287 64.8h10l-5 8.6z"/><path d="M240.7 106.9h10l-5 8.6z"/><path d="M308.3 48.5h10l-5 8.6z"/><path d="M243.2 99.2h10l-5 8.6z"/><path d="M274.3 76h10l-5 8.6z"/><path d="M263.8 79.1h10l-5 8.6z"/><path d="M302.9 47.3h10l-5 8.6z"/><path d="M218 119.9h10l-5 8.6z"/><path d="M237.1 104h10l-5 8.6z"/><path d="M218 125.5h10l-5 8.6z"/><path d="M217 118.5h10l-5 8.6z"/><path d="M249.9 97.8h10l-5 8.6z"/><path d="M213.9 118.3h10l-5 8.6z"/><path d="M245.2 94.5h10l-5 8.6z"/><path d="M201.9 135.3h10l-5 8.6z"/><path d="M277.9 75.6h10l-5 8.6z"/><path d="M296.4 53.4h10l-5 8.6z"/><path d="M177.5 147.6h10l-5 8.6z"/><path d="M261 86.4h10l-5 8.6z"/><path d="M270.2 77.1h10l-5 8.6z"/><path d="M230.4 106h10l-5 8.6z"/><path d="M252.1 87.8h10l-5 8.6z"/><path d="M189.7 143.1h10l-5 8.6z"/><path d="M239.4 103.1h10l-5 8.6z"/><path d="M273.7 77h10l-5 8.6z"/><path d="M265 75.6h10l-5 8.6z"/><path d="M243.9 108.6h10l-5 8.6z"/><path d="M259.3 86h10l-5 8.6z"/><path d="M274 72.6h10l-5 8.6z"/><path d="M228.9 114.7h10l-5 8.6z"/><path d="M284.3 66.2h10l-5 8.6z"/><path d="M238.7 113.2h10l-5 8.6z"/><path d="M272.4 79.8h10l-5 8.6z"/><path d="M251.9 90.7h10l-5 8.6z"/><path d="M190.4 143.8h10l-5 8.6z"/><path d="M180.5 152h10l-5 8.6z"/><path d="M269.2 76.7h10l-5 8.6z"/><path d="M309.7 47.7h10l-5 8.6z"/><path d="M211.1 124.6h10l-5 8.6z"/><path d="M246.4 103.4h10l-5 8.6z"/><path d="M244.9 97.5h10l-5 8.6z"/><path d="M190.6 144.7h10l-5 8.6z"/><path d="M279 73.8h10l-5 8.6z"/><path d="M194.2 133.7h10l-5 8.6z"/><path d="M186.2 145.1h10l-5 8.6z"/><path d="M218.4 123.6h10l-5 8.6z"/><path d="M358.6 5.3h10l-5 8.6z"/><path d="M333.9 19.1h10l-5 8.6z"/><path d="M323.2 21.7h10l-5 8.6z"/><path d="M322.3 27.1h10l-5 8.6z"/><path d="M314.3 32.5h10l-5 8.6z"/><path d="M329.5 23.6h10l-5 8.6z"/><path d="M144.9 184.6h10l-5 8.6z"/><path d="M147.6 183.2h10l-5 8.6z"/><path d="M153.3 177.5h10l-5 8.6z"/><path d="M166.9 166.8h10l-5 8.6z"/><path d="M170.8 162.7h10l-5 8.6z"/></g>
<g fill="#b4e4f0" stroke="#000" stroke-width="0.65"><circle cx="213.9" cy="129.7" r="4.5"/><circle cx="238" cy="111.6" r="4.5"/><circle cx="245.5" cy="105.9" r="4.5"/><circle cx="201.4" cy="139.1" r="4.5"/><circle cx="259" cy="95.8" r="4.5"/><circle cx="270.3" cy="87.3" r="4.5"/><circle cx="244.4" cy="106.8" r="4.5"/><circle cx="280.3" cy="79.8" r="4.5"/><circle cx="251.5" cy="101.5" r="4.5"/><circle cx="332.7" cy="40.5" r="4.5"/><circle cx="226.3" cy="120.4" r="4.5"/><circle cx="278.6" cy="81.1" r="4.5"/><circle cx="300.4" cy="64.7" r="4.5"/><circle cx="289.7" cy="72.7" r="4.5"/><circle cx="190.3" cy="147.4" r="4.5"/><circle cx="291.1" cy="71.7" r="4.5"/><circle cx="277.3" cy="82.1" r="4.5"/><circle cx="295.3" cy="68.5" r="4.5"/><circle cx="223.6" cy="122.4" r="4.5"/><circle cx="268.9" cy="88.4" r="4.5"/><circle cx="242.5" cy="108.2" r="4.5"/><circle cx="298.1" cy="66.5" r="4.5"/><circle cx="310.3" cy="57.3" r="4.5"/><circle cx="265.9" cy="90.7" r="4.5"/><circle cx="199.3" cy="140.7" r="4.5"/><circle cx="280.2" cy="79.9" r="4.5"/><circle cx="250.9" cy="101.9" r="4.5"/><circle cx="267.2" cy="89.7" r="4.5"/><circle cx="284.1" cy="77" r="4.5"/><circle cx="296.2" cy="67.9" r="4.5"/><circle cx="223.4" cy="122.5" r="4.5"/><circle cx="184.2" cy="152" r="4.5"/><circle cx="284.8" cy="76.5" r="4.5"/><circle cx="179.6" cy="155.4" r="4.5"/><circle cx="270.8" cy="87" r="4.5"/><circle cx="235.2" cy="113.7" r="4.5"/><circle cx="206.9" cy="135" r="4.5"/><circle cx="314.2" cy="54.4" r="4.5"/><circle cx="223.5" cy="122.5" r="4.5"/><circle cx="312.7" cy="55.5" r="4.5"/><circle cx="286.4" cy="75.2" r="4.5"/><circle cx="263.6" cy="92.4" r="4.5"/><circle cx="229.4" cy="118" r="4.5"/><circle cx="309" cy="58.3" r="4.5"/><circle cx="236.9" cy="112.4" r="4.5"/><circle cx="267" cy="89.8" r="4.5"/><circle cx="213" cy="130.4" r="4.5"/><circle cx="195.9" cy="143.2" r="4.5"/><circle cx="262.2" cy="93.4" r="4.5"/><circle cx="247.1" cy="104.7" r="4.5"/><circle cx="260.8" cy="94.5" r="4.5"/><circle cx="295.3" cy="68.6" r="4.5"/><circle cx="237" cy="112.3" r="4.5"/><circle cx="267" cy="89.8" r="4.5"/><circle cx="231.8" cy="116.2" r="4.5"/><circle cx="190.7" cy="147.1" r="4.5"/><circle cx="236.5" cy="112.8" r="4.5"/><circle cx="297.9" cy="66.6" r="4.5"/><circle cx="222.9" cy="122.9" r="4.5"/><circle cx="260.4" cy="94.8" r="4.5"/><circle cx="231" cy="116.9" r="4.5"/><circle cx="267.9" cy="89.2" r="4.5"/><circle cx="275.5" cy="83.4" r="4.5"/><circle cx="309" cy="58.3" r="4.5"/><circle cx="238.6" cy="111.2" r="4.5"/><circle cx="314" cy="54.5" r="4.5"/><circle cx="258.4" cy="96.3" r="4.5"/><circle cx="283" cy="77.8" r="4.5"/><circle cx="207.5" cy="134.5" r="4.5"/><circle cx="220.8" cy="124.5" r="4.5"/><circle cx="212" cy="131.1" r="4.5"/><circle cx="290" cy="72.6" r="4.5"/><circle cx="242.6" cy="108.1" r="4.5"/><circle cx="263.9" cy="92.2" r="4.5"/><circle cx="249" cy="103.3" r="4.5"/><circle cx="262.9" cy="92.9" r="4.5"/><circle cx="270.6" cy="87.1" r="4.5"/><circle cx="299.6" cy="65.4" r="4.5"/><circle cx="243.9" cy="107.2" r="4.5"/><circle cx="186" cy="150.6" r="4.5"/><circle cx="312.4" cy="55.7" r="4.5"/><circle cx="283.6" cy="77.3" r="4.5"/><circle cx="218.4" cy="126.3" r="4.5"/><circle cx="298.5" cy="66.2" r="4.5"/><circle cx="299.1" cy="65.7" r="4.5"/><circle cx="302.2" cy="63.4" r="4.5"/><circle cx="288.1" cy="74" r="4.5"/><circle cx="316.5" cy="52.7" r="4.5"/><circle cx="230.6" cy="117.2" r="4.5"/><circle cx="285.7" cy="75.8" r="4.5"/><circle cx="272.7" cy="85.5" r="4.5"/><circle cx="318" cy="51.5" r="4.5"/><circle cx="297.1" cy="67.2" r="4.5"/><circle cx="223.5" cy="122.4" r="4.5"/><circle cx="215.1" cy="128.8" r="4.5"/><circle cx="296.6" cy="67.6" r="4.5"/><circle cx="262.3" cy="93.4" r="4.5"/><circle cx="268.7" cy="88.6" r="4.5"/><circle cx="248.7" cy="103.6" r="4.5"/><circle cx="291.7" cy="71.3" r="4.5"/><circle cx="315.5" cy="53.4" r="4.5"/><circle cx="300.1" cy="65" r="4.5"/><circle cx="194.3" cy="144.4" r="4.5"/><circle cx="238.2" cy="111.4" r="4.5"/><circle cx="237.3" cy="112.1" r="4.5"/><circle cx="251.9" cy="101.2" r="4.5"/><circle cx="282.2" cy="78.4" r="4.5"/><circle cx="253" cy="100.3" r="4.5"/><circle cx="299.9" cy="65.1" r="4.5"/><circle cx="266.4" cy="90.3" r="4.5"/><circle cx="318.7" cy="51" r="4.5"/><circle cx="263.2" cy="92.7" r="4.5"/><circle cx="275.1" cy="83.8" r="4.5"/><circle cx="253.3" cy="100.1" r="4.5"/><circle cx="276.5" cy="82.7" r="4.5"/><circle cx="213.6" cy="129.9" r="4.5"/><circle cx="290.7" cy="72" r="4.5"/><circle cx="234.6" cy="114.1" r="4.5"/><circle cx="238" cy="111.6" r="4.5"/><circle cx="280.9" cy="79.4" r="4.5"/><circle cx="229.9" cy="117.7" r="4.5"/><circle cx="324.5" cy="46.6" r="4.5"/><circle cx="199.6" cy="140.4" r="4.5"/><circle cx="313.2" cy="55.2" r="4.5"/><circle cx="286.1" cy="75.5" r="4.5"/><circle cx="207.7" cy="134.4" r="4.5"/><circle cx="323.6" cy="47.3" r="4.5"/><circle cx="291.1" cy="71.7" r="4.5"/><circle cx="224.5" cy="121.7" r="4.5"/><circle cx="279.5" cy="80.5" r="4.5"/><circle cx="286.4" cy="75.2" r="4.5"/><circle cx="285" cy="76.3" r="4.5"/><circle cx="289.5" cy="73" r="4.5"/><circle cx="255.1" cy="98.8" r="4.5"/><circle cx="305.9" cy="60.6" r="4.5"/><circle cx="198.2" cy="141.5" r="4.5"/><circle cx="328.5" cy="43.6" r="4.5"/><circle cx="255.4" cy="98.5" r="4.5"/><circle cx="303.6" cy="62.3" r="4.5"/><circle cx="272.2" cy="85.9" r="4.5"/><circle cx="315.7" cy="53.3" r="4.5"/><circle cx="281.8" cy="78.7" r="4.5"/><circle cx="266.3" cy="90.4" r="4.5"/><circle cx="238" cy="111.6" r="4.5"/><circle cx="205.8" cy="135.7" r="4.5"/><circle cx="255.8" cy="98.2" r="4.5"/><circle cx="260.4" cy="94.8" r="4.5"/><circle cx="183.5" cy="152.5" r="4.5"/><circle cx="228.9" cy="118.4" r="4.5"/><circle cx="244.6" cy="106.6" r="4.5"/><circle cx="196.6" cy="142.7" r="4.5"/><circle cx="290.3" cy="72.3" r="4.5"/><circle cx="293.1" cy="70.2" r="4.5"/><circle cx="260" cy="95.1" r="4.5"/><circle cx="285" cy="76.3" r="4.5"/><circle cx="291.1" cy="71.7" r="4.5"/><circle cx="240.4" cy="109.8" r="4.5"/><circle cx="269.8" cy="87.7" r="4.5"/><circle cx="246.8" cy="105" r="4.5"/><circle cx="211.5" cy="131.5" r="4.5"/><circle cx="218.2" cy="126.5" r="4.5"/><circle cx="224.7" cy="121.6" r="4.5"/><circle cx="293.5" cy="69.9" r="4.5"/><circle cx="235.6" cy="113.4" r="4.5"/><circle cx="271.9" cy="86.2" r="4.5"/><circle cx="195.5" cy="143.5" r="4.5"/><circle cx="273.2" cy="85.2" r="4.5"/><circle cx="236.1" cy="113" r="4.5"/><circle cx="305.2" cy="61.1" r="4.5"/><circle cx="315.6" cy="53.3" r="4.5"/><circle cx="298.2" cy="66.4" r="4.5"/><circle cx="244.2" cy="106.9" r="4.5"/><circle cx="262.5" cy="93.2" r="4.5"/><circle cx="330.9" cy="41.9" r="4.5"/><circle cx="279.9" cy="80.1" r="4.5"/><circle cx="219.6" cy="125.4" r="4.5"/><circle cx="285.8" cy="75.7" r="4.5"/><circle cx="269.4" cy="88" r="4.5"/><circle cx="301.6" cy="63.8" r="4.5"/><circle cx="318.2" cy="51.4" r="4.5"/><circle cx="210" cy="132.6" r="4.5"/><circle cx="233.8" cy="114.8" r="4.5"/><circle cx="189.7" cy="147.9" r="4.5"/><circle cx="265.3" cy="91.1" r="4.5"/><circle cx="328.2" cy="43.8" r="4.5"/><circle cx="286.4" cy="75.2" r="4.5"/><circle cx="315.6" cy="53.3" r="4.5"/><circle cx="254.5" cy="99.2" r="4.5"/><circle cx="249.8" cy="102.7" r="4.5"/><circle cx="248.9" cy="103.4" r="4.5"/><circle cx="187.7" cy="149.4" r="4.5"/><circle cx="288.6" cy="73.6" r="4.5"/><circle cx="188.8" cy="148.6" r="4.5"/><circle cx="235.5" cy="113.4" r="4.5"/><circle cx="235.8" cy="113.3" r="4.5"/><circle cx="310.3" cy="57.3" r="4.5"/><circle cx="209.2" cy="133.2" r="4.5"/><circle cx="264.6" cy="91.6" r="4.5"/><circle cx="332.9" cy="40.3" r="4.5"/><circle cx="311.7" cy="56.3" r="4.5"/><circle cx="255.1" cy="98.8" r="4.5"/><circle cx="311.2" cy="56.7" r="4.5"/><circle cx="287.7" cy="74.3" r="4.5"/><circle cx="278.7" cy="81" r="4.5"/><circle cx="184.6" cy="151.7" r="4.5"/><circle cx="301.8" cy="63.7" r="4.5"/><circle cx="255.2" cy="98.7" r="4.5"/><circle cx="209.1" cy="133.3" r="4.5"/><circle cx="205" cy="136.4" r="4.5"/><circle cx="280" cy="80.1" r="4.5"/><circle cx="218.3" cy="126.4" r="4.5"/><circle cx="305.6" cy="60.8" r="4.5"/><circle cx="257.4" cy="97.1" r="4.5"/><circle cx="268.2" cy="88.9" r="4.5"/><circle cx="210" cy="132.6" r="4.5"/><circle cx="218.2" cy="126.5" r="4.5"/><circle cx="236.9" cy="112.4" r="4.5"/><circle cx="236.1" cy="113" r="4.5"/><circle cx="219.5" cy="125.5" r="4.5"/><circle cx="193.7" cy="144.8" r="4.5"/><circle cx="200.9" cy="139.4" r="4.5"/><circle cx="302.4" cy="63.3" r="4.5"/><circle cx="205.9" cy="135.7" r="4.5"/><circle cx="275.8" cy="83.2" r="4.5"/><circle cx="256.6" cy="97.6" r="4.5"/><circle cx="232.5" cy="115.7" r="4.5"/><circle cx="220" cy="125.1" r="4.5"/><circle cx="295.1" cy="68.7" r="4.5"/><circle cx="176" cy="158.1" r="4.5"/><circle cx="325.8" cy="45.6" r="4.5"/><circle cx="264.9" cy="91.4" r="4.5"/><circle cx="233.2" cy="115.2" r="4.5"/><circle cx="280.3" cy="79.8" r="4.5"/><circle cx="256.2" cy="98" r="4.5"/><circle cx="317" cy="52.3" r="4.5"/><circle cx="266.5" cy="90.2" r="4.5"/><circle cx="304.3" cy="61.8" r="4.5"/><circle cx="201.4" cy="139.1" r="4.5"/><circle cx="263.9" cy="92.2" r="4.5"/><circle cx="291.9" cy="71.2" r="4.5"/><circle cx="272.7" cy="85.5" r="4.5"/><circle cx="283.6" cy="77.3" r="4.5"/><circle cx="214.4" cy="129.4" r="4.5"/><circle cx="238.5" cy="111.2" r="4.5"/><circle cx="289.5" cy="72.9" r="4.5"/><circle cx="323.7" cy="47.3" r="4.5"/><circle cx="184.6" cy="151.7" r="4.5"/><circle cx="294.1" cy="69.5" r="4.5"/><circle cx="213.8" cy="129.7" r="4.5"/><circle cx="240.5" cy="109.7" r="4.5"/><circle cx="262.2" cy="93.4" r="4.5"/><circle cx="301.9" cy="63.6" r="4.5"/><circle cx="265.3" cy="91.1" r="4.5"/><circle cx="270.1" cy="87.5" r="4.5"/><circle cx="261.3" cy="94.1" r="4.5"/><circle cx="305.6" cy="60.9" r="4.5"/><circle cx="204.9" cy="136.4" r="4.5"/><circle cx="251.5" cy="101.5" r="4.5"/><circle cx="336.9" cy="37.3" r="4.5"/><circle cx="196.8" cy="142.5" r="4.5"/><circle cx="176.3" cy="157.9" r="4.5"/><circle cx="227" cy="119.9" r="4.5"/><circle cx="331.5" cy="41.4" r="4.5"/><circle cx="265.7" cy="90.8" r="4.5"/><circle cx="224.2" cy="122" r="4.5"/><circle cx="279.5" cy="80.4" r="4.5"/><circle cx="177.4" cy="157.1" r="4.5"/><circle cx="300" cy="65" r="4.5"/><circle cx="249.1" cy="103.2" r="4.5"/><circle cx="268.6" cy="88.6" r="4.5"/><circle cx="204.5" cy="136.7" r="4.5"/><circle cx="241.6" cy="108.9" r="4.5"/><circle cx="261.7" cy="93.8" r="4.5"/><circle cx="279.9" cy="80.1" r="4.5"/><circle cx="246.5" cy="105.2" r="4.5"/><circle cx="241.1" cy="109.3" r="4.5"/><circle cx="192.8" cy="145.5" r="4.5"/><circle cx="258" cy="96.6" r="4.5"/><circle cx="223.7" cy="122.3" r="4.5"/><circle cx="322.1" cy="48.5" r="4.5"/><circle cx="177.2" cy="157.3" r="4.5"/><circle cx="279" cy="80.8" r="4.5"/><circle cx="297.7" cy="66.8" r="4.5"/><circle cx="250.8" cy="102" r="4.5"/><circle cx="256.2" cy="97.9" r="4.5"/><circle cx="220.8" cy="124.5" r="4.5"/><circle cx="202.3" cy="138.4" r="4.5"/><circle cx="185.9" cy="150.8" r="4.5"/><circle cx="229.3" cy="118.1" r="4.5"/><circle cx="207.8" cy="134.3" r="4.5"/><circle cx="242.9" cy="107.9" r="4.5"/><circle cx="297.3" cy="67.1" r="4.5"/><circle cx="313.1" cy="55.2" r="4.5"/><circle cx="305.3" cy="61.1" r="4.5"/><circle cx="251" cy="101.8" r="4.5"/><circle cx="270" cy="87.6" r="4.5"/><circle cx="251.4" cy="101.5" r="4.5"/><circle cx="252.7" cy="100.5" r="4.5"/><circle cx="175.9" cy="158.2" r="4.5"/><circle cx="244.8" cy="106.5" r="4.5"/><circle cx="232.7" cy="115.6" r="4.5"/><circle cx="241.8" cy="108.7" r="4.5"/><circle cx="228.9" cy="118.4" r="4.5"/><circle cx="269.4" cy="88" r="4.5"/><circle cx="210.4" cy="132.3" r="4.5"/><circle cx="271.2" cy="86.6" r="4.5"/><circle cx="267.3" cy="89.6" r="4.5"/><circle cx="222" cy="123.6" r="4.5"/><circle cx="296" cy="68" r="4.5"/><circle cx="225.9" cy="120.7" r="4.5"/><circle cx="253" cy="100.3" r="4.5"/><circle cx="235.9" cy="113.2" r="4.5"/><circle cx="235.4" cy="113.5" r="4.5"/><circle cx="253.8" cy="99.7" r="4.5"/><circle cx="247.9" cy="104.1" r="4.5"/><circle cx="278.3" cy="81.3" r="4.5"/><circle cx="199.7" cy="140.3" r="4.5"/><circle cx="268.4" cy="88.8" r="4.5"/><circle cx="336.7" cy="37.5" r="4.5"/><circle cx="296" cy="68.1" r="4.5"/><circle cx="200.1" cy="140.1" r="4.5"/><circle cx="208.8" cy="133.5" r="4.5"/><circle cx="219.7" cy="125.4" r="4.5"/><circle cx="242.7" cy="108.1" r="4.5"/><circle cx="207.5" cy="134.5" r="4.5"/><circle cx="253" cy="100.3" r="4.5"/><circle cx="233.1" cy="115.3" r="4.5"/><circle cx="257.7" cy="96.8" r="4.5"/><circle cx="319.9" cy="50.1" r="4.5"/><circle cx="190" cy="147.6" r="4.5"/><circle cx="240.3" cy="109.9" r="4.5"/><circle cx="246" cy="105.6" r="4.5"/><circle cx="237.4" cy="112.1" r="4.5"/><circle cx="194.5" cy="144.3" r="4.5"/><circle cx="227.2" cy="119.7" r="4.5"/><circle cx="229.8" cy="117.7" r="4.5"/><circle cx="260.2" cy="94.9" r="4.5"/><circle cx="235.4" cy="113.6" r="4.5"/><circle cx="181" cy="154.4" r="4.5"/><circle cx="273" cy="85.3" r="4.5"/><circle cx="261.6" cy="93.9" r="4.5"/><circle cx="251.4" cy="101.5" r="4.5"/><circle cx="255.6" cy="98.4" r="4.5"/><circle cx="191.4" cy="146.6" r="4.5"/><circle cx="288" cy="74" r="4.5"/><circle cx="280.1" cy="80" r="4.5"/><circle cx="323.4" cy="47.5" r="4.5"/><circle cx="198.3" cy="141.4" r="4.5"/><circle cx="179.4" cy="155.6" r="4.5"/><circle cx="219.3" cy="125.6" r="4.5"/><circle cx="274.4" cy="84.2" r="4.5"/><circle cx="316" cy="53" r="4.5"/><circle cx="279.6" cy="80.3" r="4.5"/><circle cx="211.8" cy="131.3" r="4.5"/><circle cx="278.9" cy="80.9" r="4.5"/><circle cx="258" cy="96.6" r="4.5"/><circle cx="295.1" cy="68.7" r="4.5"/><circle cx="281.8" cy="78.7" r="4.5"/><circle cx="280" cy="80.1" r="4.5"/><circle cx="328.3" cy="43.8" r="4.5"/><circle cx="233.8" cy="114.7" r="4.5"/><circle cx="263.7" cy="92.3" r="4.5"/><circle cx="229.6" cy="117.9" r="4.5"/><circle cx="227.3" cy="119.6" r="4.5"/><circle cx="243.7" cy="107.4" r="4.5"/><circle cx="283.5" cy="77.4" r="4.5"/><circle cx="238.9" cy="110.9" r="4.5"/><circle cx="202.1" cy="138.5" r="4.5"/><circle cx="250.8" cy="102" r="4.5"/><circle cx="255.4" cy="98.5" r="4.5"/><circle cx="290.5" cy="72.2" r="4.5"/><circle cx="259" cy="95.8" r="4.5"/><circle cx="290.4" cy="72.3" r="4.5"/><circle cx="315.3" cy="53.6" r="4.5"/><circle cx="295.1" cy="68.7" r="4.5"/><circle cx="239" cy="110.8" r="4.5"/><circle cx="316.9" cy="52.4" r="4.5"/><circle cx="249.3" cy="103.1" r="4.5"/><circle cx="280.2" cy="79.9" r="4.5"/><circle cx="276.2" cy="82.9" r="4.5"/><circle cx="318.5" cy="51.1" r="4.5"/><circle cx="221.8" cy="123.8" r="4.5"/><circle cx="242.9" cy="107.9" r="4.5"/><circle cx="214.3" cy="129.4" r="4.5"/><circle cx="223.7" cy="122.4" r="4.5"/><circle cx="251.2" cy="101.7" r="4.5"/><circle cx="223.9" cy="122.1" r="4.5"/><circle cx="255.6" cy="98.4" r="4.5"/><circle cx="201.3" cy="139.2" r="4.5"/><circle cx="280.8" cy="79.4" r="4.5"/><circle cx="310.3" cy="57.3" r="4.5"/><circle cx="184.9" cy="151.5" r="4.5"/><circle cx="266.3" cy="90.3" r="4.5"/><circle cx="278.8" cy="81" r="4.5"/><circle cx="240.4" cy="109.8" r="4.5"/><circle cx="264.5" cy="91.7" r="4.5"/><circle cx="190.8" cy="147" r="4.5"/><circle cx="244.2" cy="107" r="4.5"/><circle cx="278.9" cy="80.9" r="4.5"/><circle cx="280.8" cy="79.4" r="4.5"/><circle cx="236.9" cy="112.4" r="4.5"/><circle cx="267" cy="89.8" r="4.5"/><circle cx="284.7" cy="76.5" r="4.5"/><circle cx="228.7" cy="118.6" r="4.5"/><circle cx="293.3" cy="70" r="4.5"/><circle cx="230.6" cy="117.1" r="4.5"/><circle cx="275.1" cy="83.7" r="4.5"/><circle cx="260.7" cy="94.6" r="4.5"/><circle cx="190" cy="147.7" r="4.5"/><circle cx="179" cy="155.9" r="4.5"/><circle cx="279.3" cy="80.6" r="4.5"/><circle cx="318" cy="51.6" r="4.5"/><circle cx="215.5" cy="128.5" r="4.5"/><circle cx="243.7" cy="107.3" r="4.5"/><circle cx="251.6" cy="101.4" r="4.5"/><circle cx="188.8" cy="148.6" r="4.5"/><circle cx="283.2" cy="77.7" r="4.5"/><circle cx="203.4" cy="137.6" r="4.5"/><circle cx="188.2" cy="149" r="4.5"/><circle cx="216.9" cy="127.5" r="4.5"/><circle cx="372.8" cy="8.4" r="4.5"/><circle cx="353.4" cy="22.4" r="4.5"/><circle cx="348.2" cy="25.2" r="4.5"/><circle cx="342.9" cy="29.3" r="4.5"/><circle cx="338.4" cy="33" r="4.5"/><circle cx="333" cy="37.3" r="4.5"/><circle cx="328.6" cy="40.8" r="4.5"/><circle cx="132" cy="188.4" r="4.5"/><circle cx="136.1" cy="186.6" r="4.5"/><circle cx="143.6" cy="180.7" r="4.5"/><circle cx="157.6" cy="170" r="4.5"/><circle cx="162.9" cy="166.4" r="4.5"/><circle cx="170.8" cy="160.4" r="4.5"/><circle cx="175.8" cy="157.1" r="4.5"/><circle cx="181.1" cy="152.7" r="4.5"/></g>
</g>
<g stroke="#8c8c8c" stroke-width="1" fill="none">
<path d="M114.5 0V203M114 0.5H384M383.5 0V203"/>
<path d="M114 203H384" stroke="#666"/>
<path d="M126.5 202.5v-3M248.5 202.5v-3M371.5 202.5v-3M126.5 0.5v3M248.5 0.5v3M371.5 0.5v3M114.5 9.5h3M114.5 101.5h3M114.5 193.5h3M383.5 9.5h-3M383.5 101.5h-3M383.5 193.5h-3" stroke="#9a9a9a"/>
</g>
<g class="tk">
<text x="108.8" y="16" text-anchor="end">0.5</text>
<text x="108.4" y="108.5" text-anchor="end">0</text>
<text x="108.1" y="200.3" text-anchor="end">-0.5</text>
<text x="125.8" y="225.4" text-anchor="middle">-0.5</text>
<text x="248.8" y="225.4" text-anchor="middle">0</text>
<text x="371.2" y="225.4" text-anchor="middle">0.5</text>
</g>
<g class="lb">
<text x="189.13" y="247.08" font-size="21.55" font-style="italic">θ</text>
<text transform="translate(200.02 239.78) scale(0.771 1)" font-size="16.78">(</text>
<text transform="translate(206.15 239.60) scale(0.974 1)" font-size="15.69" font-style="italic">M</text>
<text transform="translate(220.14 239.78) scale(0.917 1)" font-size="16.78">)</text>
<text transform="translate(235.11 247.48) scale(0.739 1)" font-size="23.89">(</text>
<text transform="translate(242.70 247.09) scale(0.786 1)" font-size="21.30" font-style="italic">a</text>
<text transform="translate(252.58 246.93) scale(0.842 1)" font-size="21.30" font-style="italic">p</text>
<text transform="translate(262.61 246.93) scale(0.788 1)" font-size="21.30" font-style="italic">p</text>
<text transform="translate(270.70 247.21) scale(1.060 1)" font-size="21.30" font-style="italic">r</text>
<text transform="translate(282.19 247.09) scale(0.960 1)" font-size="21.30" font-style="italic">o</text>
<text transform="translate(293.15 247.10) scale(1.171 1)" font-size="21.30" font-style="italic">x</text>
<text transform="translate(303.98 247.08) scale(1.095 1)" font-size="21.30">.</text>
<text transform="translate(310.05 247.48) scale(0.902 1)" font-size="23.89">)</text>
<g transform="translate(79.8 149.6) rotate(-90)"><text transform="translate(-1.02 -0.02) scale(0.926 1)" font-size="22.11" font-style="italic">θ</text>
<text transform="translate(8.96 -1.53) scale(0.769 1)" font-size="19.18">*</text>
<text transform="translate(25.75 -0.08) scale(0.811 1)" font-size="23.22">(</text>
<text transform="translate(32.26 -0.01) scale(1.156 1)" font-size="21.30" font-style="italic">e</text>
<text transform="translate(43.62 0.00) scale(1.055 1)" font-size="21.30" font-style="italic">x</text>
<text transform="translate(54.88 -0.01) scale(0.819 1)" font-size="21.30" font-style="italic">a</text>
<text transform="translate(63.93 -0.01) scale(1.043 1)" font-size="21.30" font-style="italic">c</text>
<text x="72.28" y="-0.05" font-size="24.56" font-style="italic">t</text>
<text transform="translate(80.65 0.00) scale(0.791 1)" font-size="23.33">)</text></g>
</g>
<g>
<rect x="130.8" y="16.3" width="2.6" height="2.6" fill="#f00" stroke="#300" stroke-width="0.5"/>
<path d="M129.7 38.5h4.7l-2.35 3.9z" fill="#00f" stroke="#000" stroke-width="0.4"/>
<circle cx="131.85" cy="62.6" r="2.1" fill="#b4e4f0" stroke="#000" stroke-width="0.6"/>
</g>
<g class="lg">
<text transform="translate(144.71 22.00) scale(1.088 1)" font-size="19.00" font-style="italic">M</text>
<text transform="translate(167.85 23.59) scale(1.426 1)" font-size="19.00">=</text>
<text transform="translate(187.59 22.01) scale(0.940 1)" font-size="19.00">0</text>
<text transform="translate(144.71 44.40) scale(1.088 1)" font-size="19.00" font-style="italic">M</text>
<text transform="translate(167.85 46.00) scale(1.426 1)" font-size="19.00">=</text>
<text transform="translate(187.88 44.60) scale(0.947 1)" font-size="19.00">1</text>
<text transform="translate(144.71 66.80) scale(1.088 1)" font-size="19.00" font-style="italic">M</text>
<text transform="translate(167.85 68.39) scale(1.426 1)" font-size="19.00">=</text>
<text transform="translate(187.18 66.81) scale(0.987 1)" font-size="19.00">5</text>
</g>
</svg>
</body></html>
